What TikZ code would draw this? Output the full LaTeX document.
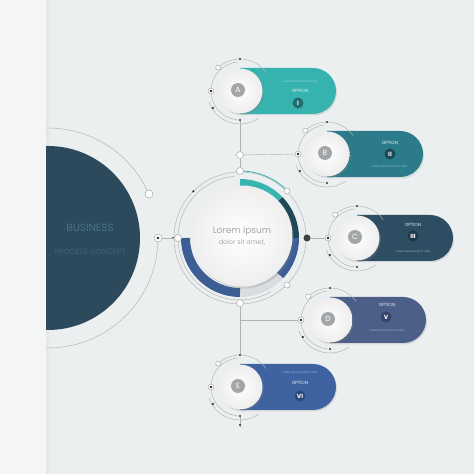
\documentclass[tikz,border=0pt]{standalone}
\usepackage{fontspec}
\setmainfont{Poppins}
\usetikzlibrary{shadows,calc}
\definecolor{bg}{HTML}{EBEFF0}
\definecolor{strip}{HTML}{F4F6F6}
\definecolor{darkc}{HTML}{2D4A5C}
\definecolor{biztxt}{HTML}{46718A}
\definecolor{proctxt}{HTML}{3E6279}
\definecolor{cA}{HTML}{37B3AF}
\definecolor{cB}{HTML}{2B7B8B}
\definecolor{cC}{HTML}{2D4D62}
\definecolor{cD}{HTML}{4C5F89}
\definecolor{cE}{HTML}{3F63A0}
\definecolor{nA}{HTML}{1E6E71}
\definecolor{nB}{HTML}{1B4A57}
\definecolor{nC}{HTML}{1D3748}
\definecolor{nD}{HTML}{34456B}
\definecolor{nE}{HTML}{2B4878}
\definecolor{rteal}{HTML}{38B5AF}
\definecolor{rdark}{HTML}{1F4858}
\definecolor{rblue}{HTML}{3D5E94}
\definecolor{rgrey}{HTML}{D9DDE0}
\definecolor{lblgray}{HTML}{A3A6A8}
\definecolor{maintxt}{HTML}{A3A8AC}
\tikzset{
  hole/.style={circle, draw=gray!70, fill=white, line width=0.5pt, inner sep=0pt, minimum size=7pt},
  smallhole/.style={circle, draw=gray!70, fill=white, line width=0.45pt, inner sep=0pt, minimum size=5pt},
  bdot/.style={circle, fill=black!80, inner sep=0pt, minimum size=2.4pt},
  ringdot/.style={circle, draw=gray!70, fill=white, line width=0.45pt, inner sep=0pt, minimum size=6pt,
    path picture={\fill[black!85] (path picture bounding box.center) circle (1.4pt);}},
  thinln/.style={draw=gray!60, line width=0.45pt},
  optdisc/.style={circle, minimum size=45pt, inner sep=0pt, inner color=white, outer color=gray!14,
    drop shadow={shadow xshift=1.5pt, shadow yshift=-1.5pt, opacity=0.3}},
  lbl/.style={circle, fill=lblgray, text=white, minimum size=14pt, inner sep=0pt, font=\fontsize{7.5}{8}\selectfont},
  tinytxt/.style={text=white, opacity=0.55, font=\fontsize{2.4}{3}\selectfont, inner sep=0pt},
  opttxt/.style={text=white, opacity=0.9, font=\fontsize{4.5}{5}\selectfont, inner sep=0pt},
  numc/.style={circle, minimum size=11pt, inner sep=0pt, text=white, font=\bfseries\fontsize{6}{7}\selectfont},
  pillshadow/.style={drop shadow={shadow xshift=1pt, shadow yshift=-1.5pt, opacity=0.2}},
}
% pill: center x, center y, colour
\newcommand\mypill[3]{%
  \fill[#3, pillshadow] (#1,#2-23) -- (#1+73,#2-23) arc(-90:90:23) -- (#1,#2+23) -- cycle;}
% decoration around option disc: x, y, name prefix
\newcommand\optdeco[3]{%
  \begin{scope}[shift={(#1,#2)}]
    \draw[thinln] (95:29) arc(95:265:29);
    \draw[thinln] (35:32) arc(35:128:32);
    \draw[thinln] (200:33) arc(200:305:33);
    \node[smallhole] (#3h) at (133:32) {};
    \node[bdot] (#3t) at (90:32) {};
    \node[bdot] (#3s) at (212:32) {};
    \node[bdot] (#3b) at (-90:29) {};
    \node[ringdot] (#3l) at (180:29) {};
  \end{scope}}
\begin{document}
\begin{tikzpicture}[x=1pt,y=1pt]
\useasboundingbox (0,0) rectangle (474,474);
\fill[bg] (0,0) rectangle (474,474);
\fill[strip] (0,0) rectangle (46,474);
\fill[left color=black!10, right color=bg] (46,0) rectangle (51,474);

% left big dark half circle
\begin{scope}
  \clip (46,0) rectangle (474,474);
  \fill[darkc] (48,236) circle (92);
  \draw[thinln] (48,236) ++(23.5:110) arc(23.5:92:110);
  \draw[thinln] (158,236) arc(0:-92:110);
\end{scope}
\node[font=\fontsize{10.5}{12}\selectfont, text=biztxt] (biz) at (90,246) {BUSINESS};
\node[font=\fontsize{7.6}{9}\selectfont, text=proctxt] (proc) at (90,222) {PROCESS CONCEPT};
\node[hole, minimum size=8pt] (lp) at (149,280) {};
\node[ringdot, minimum size=8pt] (rn) at (158,236) {};

% main ring
\draw[thinln] (240,236) circle (66);
\draw[thinln] (240,236) ++(95:62) arc(95:300:62);
\draw[rteal, line width=0.8pt] (240,236) ++(90:67) arc(90:45:67);
\draw[rgrey, line width=9pt] (240,236) ++(-43:54.5) arc(-43:-90:54.5);
\draw[rteal, line width=8pt] (240,236) ++(90:55) arc(90:44:55);
\draw[rdark, line width=9pt] (240,236) ++(44:54.5) arc(44:0:54.5);
\draw[rblue, line width=9pt] (240,236) ++(0:54.5) arc(0:-43:54.5);
\draw[rblue, line width=9pt] (240,236) ++(180:54.5) arc(180:270:54.5);
\node[bdot] (m1) at ($(240,236)+(135:66)$) {};

% main disc
\node[circle, minimum size=101pt, inner sep=0pt, inner color=white, outer color=gray!13,
      drop shadow={shadow xshift=1.5pt, shadow yshift=-2pt, opacity=0.25},
      align=center, text=maintxt] (main) at (242,238)
      {{\fontsize{9}{11}\selectfont Lorem ipsum}\\[-1pt]{\fontsize{6.5}{8}\selectfont dolor sit amet,}};

% junction nodes on main ring
\node[hole] (t1) at (240,303) {};
\node[hole] (b1) at (240,171) {};
\node[hole, minimum size=6pt] (q1) at (287,283) {};
\node[hole, minimum size=6pt] (q2) at (287,189) {};
\node[hole] (l1) at (178,236) {};
\node[circle, fill=black!75, inner sep=0pt, minimum size=7pt] (r1) at (307,236) {};
\node[hole] (j1) at (240,319) {};
\coordinate (jd) at (240,154);
\node[bdot] (ld) at (173,236) {};

% option pills
\mypill{240}{383}{cA}
\mypill{327}{320}{cB}
\mypill{357}{236}{cC}
\mypill{330}{154}{cD}
\mypill{240}{87}{cE}

% decorations
\optdeco{240}{383}{A}
\optdeco{327}{320}{B}
\optdeco{357}{236}{C}
\optdeco{330}{154}{D}
\optdeco{240}{87}{E}

% connectors
\draw[thinln] (rn) -- (l1);
\draw[thinln] (Ab) -- (j1) -- (t1);
\draw[thinln] (j1) -- (Bl);
\draw[thinln] (r1) -- (Cl);
\draw[thinln] (b1) -- (Et);
\draw[thinln] (jd) -- (Dl);
\coordinate (eend) at (240,47);
\draw[thinln] (Eb) -- (eend);
\node[bdot] (ee) at (240,49) {};

% option discs and labels
\node[optdisc] (A) at (240,383) {};
\node[lbl] (Al) at (238,384) {A};
\node[optdisc] (B) at (327,320) {};
\node[lbl] (Bla) at (325,321) {B};
\node[optdisc] (C) at (357,236) {};
\node[lbl] (Cla) at (355,237) {C};
\node[optdisc] (D) at (330,154) {};
\node[lbl] (Dla) at (328,155) {D};
\node[optdisc] (E) at (240,87) {};
\node[lbl] (Ela) at (238,88) {E};

% texts in pills
\node[tinytxt] (At) at (300,392) {LOREM IPSUM DOLOR SIT AMET};
\node[opttxt] (Ao) at (300,383) {OPTION};
\node[numc, fill=nA] (An) at (298,371) {I};

\node[opttxt] (Bo) at (390,331) {OPTION};
\node[numc, fill=nB] (Bn) at (390,320) {II};
\node[tinytxt] (Bt) at (390,307) {LOREM IPSUM DOLOR SIT AMET};

\node[opttxt] (Co) at (413,249) {OPTION};
\node[numc, fill=nC] (Cn) at (413,238) {III};
\node[tinytxt] (Ct) at (413,222) {LOREM IPSUM DOLOR SIT AMET};

\node[opttxt] (Do) at (387,169) {OPTION};
\node[numc, fill=nD] (Dn) at (386,157) {V};
\node[tinytxt] (Dt) at (387,143) {LOREM IPSUM DOLOR SIT AMET};

\node[tinytxt] (Et2) at (300,101) {LOREM IPSUM DOLOR SIT AMET};
\node[opttxt] (Eo) at (300,91) {OPTION};
\node[numc, fill=nE] (En) at (300,78) {VI};
\end{tikzpicture}
\end{document}
